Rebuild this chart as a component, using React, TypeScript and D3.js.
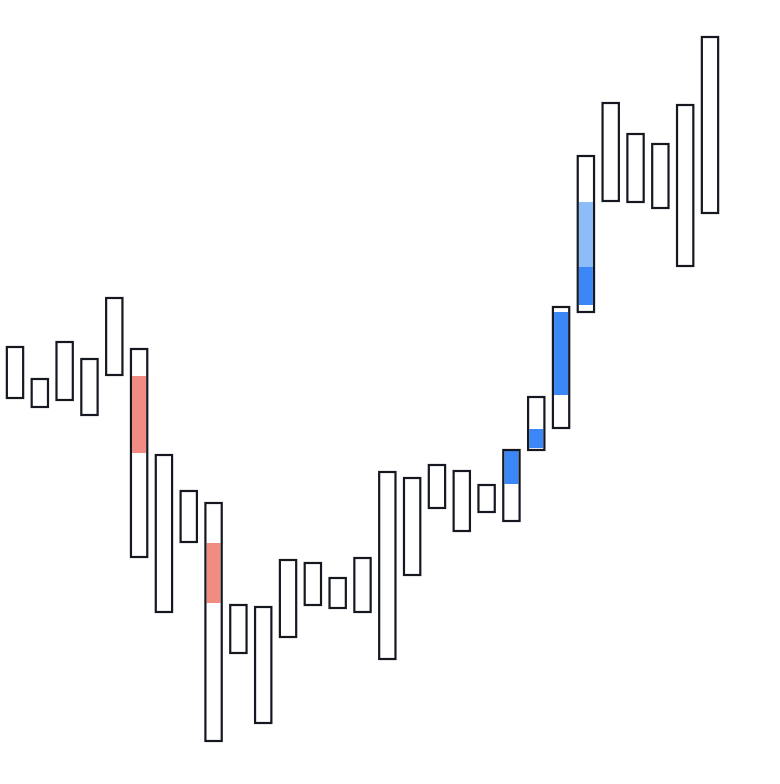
import React, { useEffect, useRef } from 'react';
import * as d3 from 'd3';

// box tops and bottoms (price units)
const boxTop = [
  43.7, 40.5, 44.2, 42.5, 48.6, 43.5, 32.9, 29.3, 28.1, 17.9,
  17.7, 22.4, 22.1, 20.6, 22.6, 31.2, 30.6, 31.9, 31.3, 29.9,
  33.4, 38.7, 47.7, 62.8, 68.1, 65.0, 64.0, 67.9, 74.7,
];
const boxBottom = [
  38.6, 37.7, 38.4, 36.9, 40.9, 22.7, 17.2, 24.2, 4.3, 13.1,
  6.1, 14.7, 17.9, 17.6, 17.2, 12.5, 20.9, 27.6, 25.3, 27.2,
  26.3, 33.4, 35.6, 47.2, 58.3, 58.2, 57.6, 51.8, 57.1,
];

// highlighted zones inside boxes
const zoneBar = [5, 8, 20, 21, 22, 23, 23];
const zoneTop = [40.8, 24.1, 33.3, 35.5, 47.2, 58.2, 51.7];
const zoneBottom = [33.1, 18.1, 30.0, 33.6, 38.9, 51.7, 47.9];
const zoneKind = ['bear', 'bear', 'bull', 'bull', 'bull', 'bullLight', 'bull'];

const colors: Record<string, string> = {
  bear: '#f28b82',
  bull: '#3b87f7',
  bullLight: '#8cbdf9',
};

const W = 780;
const H = 784;

export default function App() {
  const svgRef = useRef<SVGSVGElement>(null);

  useEffect(() => {
    if (!svgRef.current) return;
    const svg = d3.select(svgRef.current);
    svg.selectAll('*').remove();

    const idx = boxTop.map((_, i) => i);

    const x = d3
      .scaleBand<number>()
      .domain(idx)
      .range([6.85, 718.15])
      .paddingInner(0.343)
      .paddingOuter(0);

    const y = d3.scaleLinear().domain([0, 78.4]).range([H, 0]);

    // zones first, boxes on top
    svg.append('g')
      .selectAll('rect')
      .data(zoneBar.map((b, i) => ({ b, top: zoneTop[i], bottom: zoneBottom[i], kind: zoneKind[i] })))
      .enter()
      .append('rect')
      .attr('x', d => (x(d.b) || 0) + 1.15)
      .attr('width', x.bandwidth() - 2.3)
      .attr('y', d => y(d.top))
      .attr('height', d => y(d.bottom) - y(d.top))
      .attr('fill', d => colors[d.kind]);

    svg.append('g')
      .selectAll('rect')
      .data(idx)
      .enter()
      .append('rect')
      .attr('x', i => x(i) || 0)
      .attr('width', x.bandwidth())
      .attr('y', i => y(boxTop[i]))
      .attr('height', i => y(boxBottom[i]) - y(boxTop[i]))
      .attr('fill', 'none')
      .attr('stroke', '#151821')
      .attr('stroke-width', 2.2);
  }, []);

  return (
    <div style={{ position: 'absolute', left: 0, top: 0, background: '#fff' }}>
      <svg ref={svgRef} width={W} height={H} style={{ display: 'block' }}></svg>
    </div>
  );
}
